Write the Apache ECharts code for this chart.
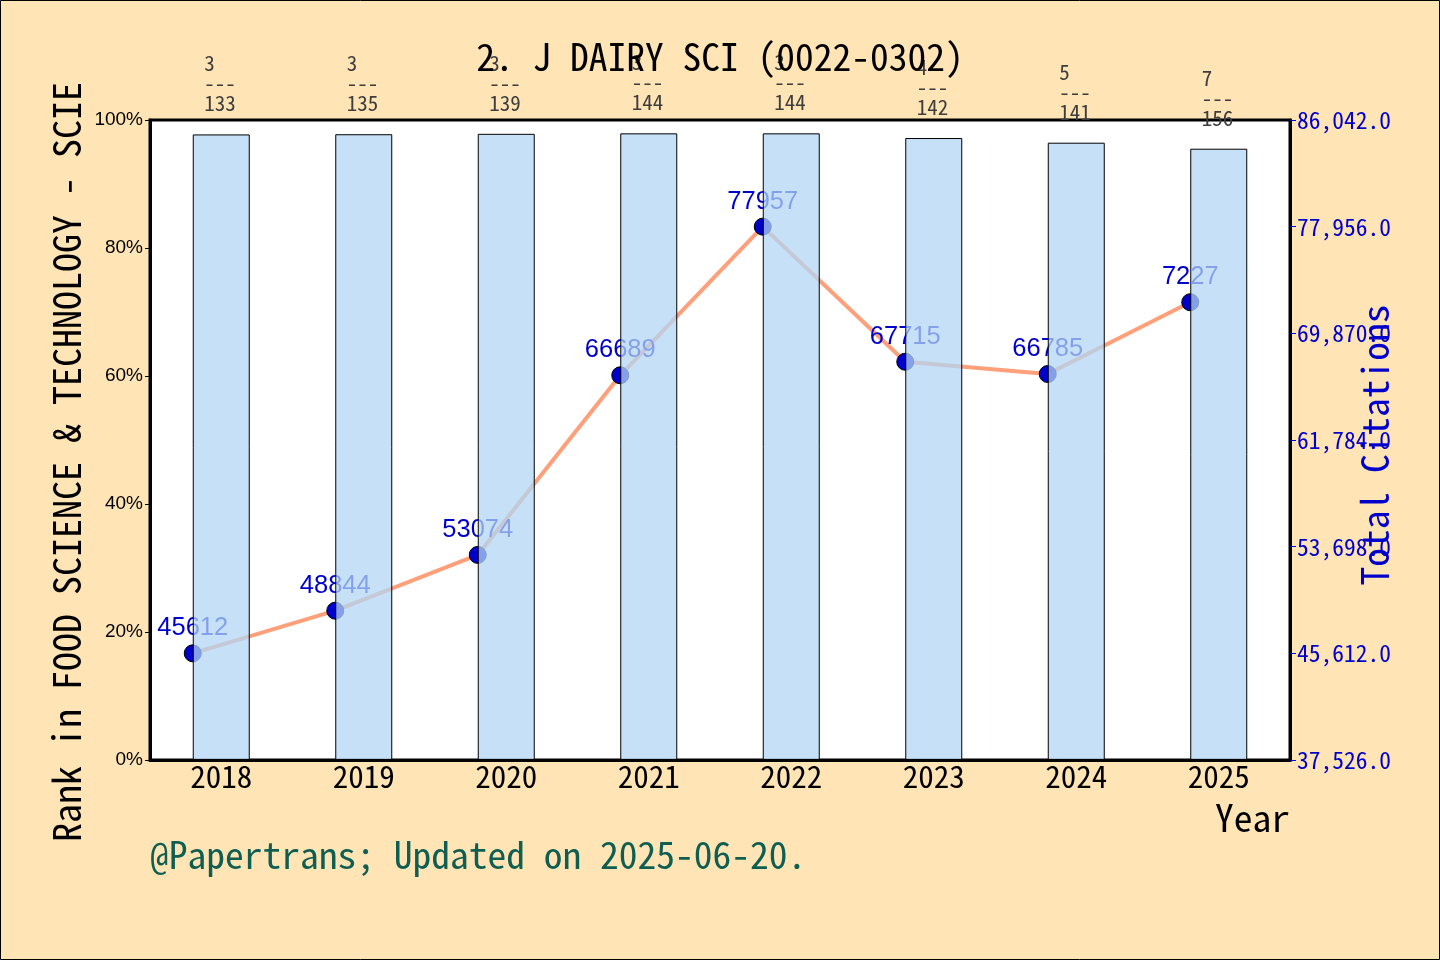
<!DOCTYPE html>
<html>
<head>
<meta charset="utf-8">
<script src="https://cdn.jsdelivr.net/npm/echarts@6/dist/echarts.min.js"></script>
<style>
  html, body { margin: 0; padding: 0; background: #FFE4B5; }
  #chart { width: 1440px; height: 960px; }
</style>
</head>
<body>
<div id="chart"></div>
<script>
  // data
  const years = ['2018', '2019', '2020', '2021', '2022', '2023', '2024', '2025'];
  const ranks = [3, 3, 3, 3, 3, 4, 5, 7];
  const totals = [133, 135, 139, 144, 144, 142, 141, 156];
  const citations = [45612, 48844, 53074, 66689, 77957, 67715, 66785, 72227];
  const citeLabels = ['45612', '48844', '53074', '66689', '77957', '67715', '66785', '7227'];
  const citeTicks = [37526, 45612, 53698, 61784, 69870, 77956, 86042];

  const MONO = '"Noto Sans Mono CJK SC", "DejaVu Sans Mono", monospace';
  const SANS = '"Liberation Sans", "DejaVu Sans", sans-serif';
  const BLUE = '#0000CD';

  const chart = echarts.init(document.getElementById('chart'));

  const rankPct = years.map((y, i) => (1 - ranks[i] / totals[i]) * 100);
  const linePts = citations.map((v, i) => [i - 0.2, v]);

  const option = {
    backgroundColor: '#FFE4B5',
    animation: false,
    title: {
      text: '2. J DAIRY SCI (0022-0302)',
      left: 'center',
      top: 33,
      textStyle: { fontFamily: MONO, fontSize: 37.5, fontWeight: 'normal', color: '#000' },
    },
    grid: {
      left: 150, right: 150, top: 120, bottom: 200,
      show: true, backgroundColor: '#fff', borderColor: '#000', borderWidth: 3,
    },
    xAxis: [
      {
        type: 'category',
        data: years,
        position: 'bottom',
        axisLine: { lineStyle: { color: '#000', width: 3 } },
        axisTick: { inside: true, length: 5, lineStyle: { color: '#000' } },
        axisLabel: { fontFamily: MONO, fontSize: 31, color: '#000', margin: 1 },
      },
      {
        type: 'value',
        min: -0.5,
        max: 7.5,
        show: false,
      },
    ],
    yAxis: [
      {
        type: 'value',
        min: 0,
        max: 100,
        interval: 20,
        axisLine: { show: true, onZero: false, lineStyle: { color: '#000', width: 3 } },
        axisTick: { show: true, length: 5, lineStyle: { color: '#000' } },
        axisLabel: { formatter: '{value}%', fontFamily: SANS, fontSize: 19, color: '#000', margin: 7 },
        splitLine: { show: false },
      },
      {
        type: 'value',
        position: 'right',
        min: citeTicks[0],
        max: citeTicks[citeTicks.length - 1],
        axisLine: { show: true, onZero: false, lineStyle: { color: '#000', width: 3 } },
        axisTick: { show: true, length: 6, customValues: citeTicks, lineStyle: { color: BLUE } },
        axisLabel: {
          customValues: citeTicks,
          formatter: v => v.toLocaleString('en-US', { minimumFractionDigits: 1, maximumFractionDigits: 1 }),
          fontFamily: MONO,
          fontSize: 23.5,
          color: BLUE,
          margin: 7,
        },
        splitLine: { show: false },
      },
    ],
    series: [
      {
        name: 'Total Citations',
        type: 'line',
        xAxisIndex: 1,
        yAxisIndex: 1,
        z: 1,
        data: linePts,
        lineStyle: { color: '#FFA07A', width: 4 },
        symbol: 'circle',
        symbolSize: 17,
        itemStyle: { color: BLUE, borderColor: '#000', borderWidth: 1 },
        label: {
          show: true,
          position: 'top',
          distance: 3,
          formatter: p => citeLabels[p.dataIndex],
          fontFamily: SANS,
          fontSize: 25.5,
          color: BLUE,
        },
      },
      {
        name: 'Rank',
        type: 'bar',
        z: 3,
        barWidth: '40%',
        data: rankPct,
        itemStyle: { color: 'rgba(178, 214, 244, 0.75)', borderColor: '#000', borderWidth: 1 },
        label: {
          show: true,
          position: 'top',
          distance: 21,
          formatter: p => `{a|${ranks[p.dataIndex]}}\n{a|---}\n{a|${totals[p.dataIndex]}}`,
          rich: {
            a: { width: 34, align: 'left', fontFamily: MONO, fontSize: 21, lineHeight: 20, color: '#3d3d3d' },
          },
        },
      },
    ],
    graphic: [
      {
        type: 'text', x: 67, y: 462, rotation: Math.PI / 2,
        style: { text: 'Rank in FOOD SCIENCE & TECHNOLOGY - SCIE', font: `38px ${MONO}`, fill: '#000', align: 'center', verticalAlign: 'middle' },
      },
      {
        type: 'text', x: 1375, y: 445, rotation: Math.PI / 2,
        style: { text: 'Total Citations', font: `37.5px ${MONO}`, fill: BLUE, align: 'center', verticalAlign: 'middle' },
      },
      {
        type: 'text', x: 1290, y: 818,
        style: { text: 'Year', font: `37.5px ${MONO}`, fill: '#000', align: 'right', verticalAlign: 'middle' },
      },
      {
        type: 'text', x: 150, y: 855,
        style: { text: '@Papertrans; Updated on 2025-06-20.', font: `37.5px ${MONO}`, fill: '#0F5E52', align: 'left', verticalAlign: 'middle' },
      },
      {
        type: 'rect', z: 100,
        shape: { x: 0.5, y: 0.5, width: 1439, height: 959 },
        style: { fill: null, stroke: '#000', lineWidth: 1 },
      },
    ],
  };

  chart.setOption(option);
  window.addEventListener('resize', () => chart.resize());
</script>
</body>
</html>
